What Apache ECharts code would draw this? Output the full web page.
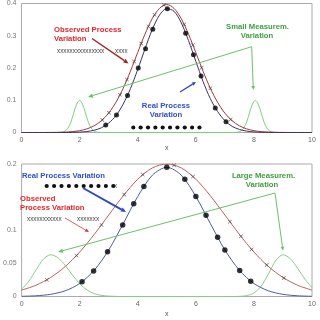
<!DOCTYPE html>
<html><head><meta charset="utf-8">
<script src="https://cdn.jsdelivr.net/npm/echarts@6/dist/echarts.min.js"></script>
<style>html,body{margin:0;padding:0;background:#fff}#c{width:320px;height:320px}</style>
</head><body><div id="c"></div>
<script>
// ---------- data ----------
const gridX = [0,0.25,0.5,0.75,1,1.25,1.5,1.75,2,2.25,2.5,2.75,3,3.25,3.5,3.75,4,4.25,4.5,4.75,5,5.25,5.5,5.75,6,6.25,6.5,6.75,7,7.25,7.5,7.75,8,8.25,8.5,8.75,9,9.25,9.5,9.75,10];
// top panel (small measurement variation)
const topObserved = [0,0,0,0,0.0002,0.0005,0.0012,0.0027,0.0057,0.0112,0.0208,0.0364,0.060,0.0936,0.137,0.190,0.248,0.305,0.353,0.385,0.397,0.385,0.353,0.305,0.248,0.190,0.137,0.0936,0.060,0.0364,0.0208,0.0112,0.0057,0.0027,0.0012,0.0005,0.0002,0,0,0,0];
const topReal = [0,0,0,0,0,0,0,0.0005,0.0012,0.003,0.007,0.0147,0.029,0.052,0.088,0.136,0.195,0.259,0.319,0.364,0.384,0.376,0.340,0.285,0.221,0.158,0.105,0.065,0.037,0.019,0.0095,0.0043,0.0018,0.0007,0.0002,0,0,0,0,0,0];
const topMeasX = [0,1.3,1.4,1.5,1.6,1.7,1.8,1.9,2.0,2.1,2.2,2.3,2.4,2.5,2.6,2.7,7.35,7.45,7.55,7.65,7.75,7.85,7.95,8.05,8.15,8.25,8.35,8.45,8.55,8.65,8.75,10];
const topMeasY = [0,0.0002,0.0011,0.0044,0.0135,0.032,0.061,0.088,0.1,0.088,0.061,0.032,0.0135,0.0044,0.0011,0.0002,0.0002,0.0011,0.0044,0.0135,0.032,0.061,0.088,0.1,0.088,0.061,0.032,0.0135,0.0044,0.0011,0.0002,0];
const topDotX = [2.9,3.27,3.65,4.02,4.27,4.52,5.02,5.65,5.92,6.18,6.67,7.04];
const topDotY = [0.023,0.054,0.115,0.2,0.26,0.32,0.384,0.308,0.241,0.175,0.076,0.033];
const topCrossX = [2.78,3.01,3.39,3.63,3.88,4.12,4.37,4.58,4.9,5.6,5.9,6.2,6.5,7.2];
const topCrossY = [0.0388,0.0613,0.117,0.164,0.22,0.276,0.329,0.365,0.395,0.335,0.271,0.201,0.137,0.0405];
// bottom panel (large measurement variation)
const botX = [0,0.5,1,1.5,2,2.5,3,3.5,4,4.5,5,5.5,6,6.5,7,7.5,8,8.5,9,9.5,10];
const botObserved = [0.0096,0.0171,0.0287,0.0452,0.0671,0.0937,0.123,0.152,0.177,0.194,0.2,0.194,0.177,0.152,0.123,0.0937,0.0671,0.0452,0.0287,0.0171,0.0096];
const botReal = [0.0003,0.0011,0.0033,0.0086,0.0196,0.0396,0.0703,0.110,0.151,0.183,0.195,0.183,0.151,0.110,0.0703,0.0396,0.0196,0.0086,0.0033,0.0011,0.0003];
const botMeas = [0.0107,0.0232,0.0404,0.0564,0.063,0.0585,0.0469,0.0324,0.0193,0.0099,0.0044,0.0017,0.0006,0.0002,0,0,0,0,0,0,0,0,0,0,0,0,0,0,0,0,0.0002,0.0013,0.0053,0.0157,0.034,0.054,0.063,0.0572,0.0429,0.0265,0.0135];
const botDotX = [2.08,2.48,2.96,3.48,3.86,4.21,5.0,5.62,6.0,6.35,6.75,7.0,7.51,7.89];
const botDotY = [0.0222,0.0386,0.0674,0.108,0.140,0.166,0.195,0.177,0.151,0.1225,0.0893,0.0703,0.0391,0.0232];
const botCrossX = [0.87,1.89,2.75,3.53,4.17,5.25,5.9,7.17,7.55,7.92,8.44,9.03];
const botCrossY = [0.0252,0.0618,0.108,0.154,0.184,0.198,0.181,0.113,0.0908,0.071,0.0476,0.0279];
// tick labels
const xTicks = ['0','2','4','6','8','10'];
const topYTicks = ['0','0.1','0.2','0.3','0.4'];
const botYTicks = ['0','0.05','0.1','','0.2'];

// ---------- chart ----------
const pairs = (xs, ys) => xs.map((x, i) => [x, ys[i]]);
const FONT = '"Liberation Sans", Arial, sans-serif';
const CROSS = 'path://M0,1L1,0L5,4L9,0L10,1L6,5L10,9L9,10L5,6L1,10L0,9L4,5Z';

function xAxis(gi, gap) {
  return {type:'value', gridIndex:gi, min:0, max:10, interval:2,
    name:'x', nameLocation:'middle', nameGap:gap,
    nameTextStyle:{fontSize:7, color:'#555', fontFamily:FONT},
    axisLine:{show:false}, axisTick:{show:false}, splitLine:{show:false},
    axisLabel:{fontSize:7, color:'#666', fontFamily:FONT, margin:4,
      formatter: v => xTicks[Math.round(v/2)]}};
}
function yAxis(gi, max, step, ticks) {
  return {type:'value', gridIndex:gi, min:0, max:max, interval:step,
    axisLine:{show:false}, axisTick:{show:false}, splitLine:{show:false},
    axisLabel:{fontSize:7, color:'#777', fontFamily:FONT, margin:5,
      formatter: v => ticks[Math.round(v/step)]}};
}
function line(gi, data, color, w, z) {
  return {type:'line', xAxisIndex:gi, yAxisIndex:gi, data:data, smooth:0.3,
    showSymbol:false, silent:true, z:z, lineStyle:{color:color, width:w}};
}
function pts(gi, data, symbol, size, color) {
  return {type:'scatter', xAxisIndex:gi, yAxisIndex:gi, data:data, symbol:symbol,
    symbolSize:size, silent:true, z:5, itemStyle:{color:color}};
}

// annotation helpers (positions in px)
function txt(x, y, s, color, font, align) {
  return {type:'text', x:x, y:y, z:100, silent:true,
    style:{text:s, fill:color, font:font, textAlign:align||'left', textVerticalAlign:'middle',
      align:align||'left', verticalAlign:'middle'}};
}
function arrow(x1, y1, x2, y2, color, w, h) {
  const a = Math.atan2(y2-y1, x2-x1);
  const bx = x2 - h*Math.cos(a), by = y2 - h*Math.sin(a);
  const px = -Math.sin(a)*h*0.45, py = Math.cos(a)*h*0.45;
  return [
    {type:'line', z:90, silent:true, shape:{x1:x1,y1:y1,x2:bx,y2:by}, style:{stroke:color, lineWidth:w}},
    {type:'polygon', z:90, silent:true, shape:{points:[[x2,y2],[bx+px,by+py],[bx-px,by-py]]}, style:{fill:color}}
  ];
}
function dotRow(x0, y, step, n) {
  const out = [];
  for (let i = 0; i < n; i++) out.push({type:'circle', z:90, silent:true, shape:{cx:x0+i*step, cy:y, r:2.1}, style:{fill:'#111'}});
  return out;
}

const B = 'bold 7.7px ' + FONT;
const S = '6.3px ' + FONT;
const RED = '#e3262b', BLUE = '#2f4fd0', GREEN = '#3f9f3f';
const graphics = [].concat(
  // top panel
  [txt(54,30,'Observed Process',RED,B), txt(54,39,'Variation',RED,B)],
  arrow(92,38.5,128.5,63.5,'#a82222',1.4,5),
  [txt(57,51,'xxxxxxxxxxxxxxx','#444',S), txt(115,51,'xxxx','#444',S)],
  [txt(257.5,26.7,'Small Measurem.',GREEN,B,'center'), txt(257,36,'Variation',GREEN,B,'center')],
  arrow(251.7,46.7,88,97,'#6cc06c',1,5),
  arrow(251.7,46.7,253.3,90,'#6cc06c',1,4),
  [txt(166,106,'Real Process',BLUE,B,'center'), txt(166,115,'Variation',BLUE,B,'center')],
  arrow(180,92,196,82,'#3048b0',1.2,4),
  dotRow(133.3,127.5,7.35,10),
  // bottom panel
  [txt(22,176,'Real Process Variation',BLUE,B)],
  dotRow(46.7,186,7.4,10),
  [txt(114,186,'x','#555',S)],
  arrow(83,188,126,212,'#3048c0',2,5),
  [txt(20,199,'Observed',RED,B), txt(20,208,'Process Variation',RED,B)],
  [txt(27,219,'xxxxxxxxxxx','#444',S), txt(77,219,'xxxxxxx','#444',S)],
  arrow(65,218,89,232,'#c03c3c',0.8,4),
  [txt(263.5,176,'Large Measurem.',GREEN,B,'center'), txt(262,185,'Variation',GREEN,B,'center')],
  arrow(275,193,58,252,'#6cc06c',1,5),
  arrow(275,193,283,250.7,'#6cc06c',1,4)
);

const chart = echarts.init(document.getElementById('c'), null, {renderer:'canvas'});
chart.setOption({
  animation:false,
  backgroundColor:'#fff',
  grid:[
    {left:21.5, right:8, top:0, height:132.5, show:true, borderColor:'#aaa', borderWidth:1},
    {left:21.5, right:8, top:164, height:132.5, show:true, borderColor:'#aaa', borderWidth:1}
  ],
  xAxis:[xAxis(0,12), xAxis(1,14)],
  yAxis:[yAxis(0,0.4,0.1,topYTicks), yAxis(1,0.2,0.05,botYTicks)],
  series:[
    line(0, pairs(topMeasX, topMeasY), '#7fcf7f', 1, 2),
    line(0, pairs(gridX, topObserved), '#9b3b3b', 1, 3),
    line(0, pairs(gridX, topReal), '#40305f', 1, 3),
    pts(0, pairs(topDotX, topDotY), 'circle', 5, '#000'),
    pts(0, pairs(topCrossX, topCrossY), CROSS, 4, '#333'),
    line(1, pairs(gridX, botMeas), '#88cc88', 1, 2),
    line(1, pairs(botX, botObserved), '#b86060', 1, 3),
    line(1, pairs(botX, botReal), '#4c5c9c', 1, 3),
    pts(1, pairs(botDotX, botDotY), 'circle', 5.5, '#000'),
    pts(1, pairs(botCrossX, botCrossY), CROSS, 4, '#333')
  ],
  graphic: graphics
});
</script>
</body></html>
